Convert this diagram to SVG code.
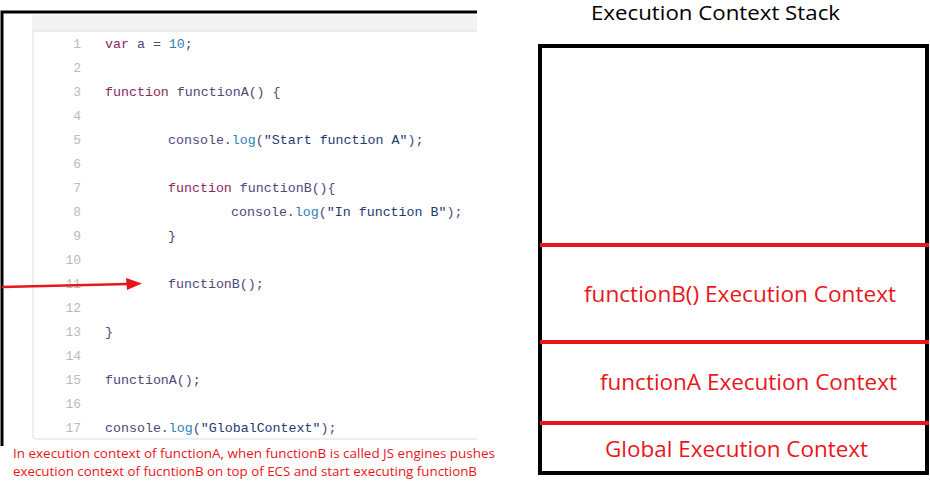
<svg xmlns="http://www.w3.org/2000/svg" width="930" height="481" viewBox="0 0 930 481">
<style>
.c{font-family:"Liberation Mono",monospace;font-size:13.3px;fill:#4b4a7a}
.n{font-family:"Liberation Mono",monospace;font-size:13px;fill:#bbb;text-anchor:end}
.k{fill:#8b2a5e}.m{fill:#2f80b8}.s{fill:#233a6e}
.r{font-family:"Open Sans",sans-serif;fill:#e8161c}
.rl{stroke:#e8161c;stroke-width:4}
</style>
<rect width="930" height="481" fill="#fff"/>
<g id="code">
<path d="M2,446 V12 H477" fill="none" stroke="#000" stroke-width="3"/>
<rect x="32" y="15" width="445" height="16" fill="#f3f3f3"/>
<path d="M477,31 H33 V436 Q33,439 36,439 H477" fill="none" stroke="#ddd"/>
<g class="n"><text x="81" y="48">1</text><text x="81" y="72">2</text><text x="81" y="96">3</text><text x="81" y="120">4</text><text x="81" y="144">5</text><text x="81" y="168">6</text><text x="81" y="192">7</text><text x="81" y="216">8</text><text x="81" y="240">9</text><text x="81" y="264">10</text><text x="81" y="288">11</text><text x="81" y="312">12</text><text x="81" y="336">13</text><text x="81" y="360">14</text><text x="81" y="384">15</text><text x="81" y="408">16</text><text x="81" y="432">17</text></g>
<g class="c">
<text x="105" y="48"><tspan class="k">var</tspan> a = <tspan class="m">10</tspan>;</text>
<text x="105" y="96"><tspan class="k">function</tspan> functionA() {</text>
<text x="168" y="144">console.<tspan class="m">log</tspan>(<tspan class="s">"Start function A"</tspan>);</text>
<text x="168" y="192"><tspan class="k">function</tspan> functionB(){</text>
<text x="231" y="216">console.<tspan class="m">log</tspan>(<tspan class="s">"In function B"</tspan>);</text>
<text x="168" y="240">}</text>
<text x="168" y="288">functionB();</text>
<text x="105" y="336">}</text>
<text x="105" y="384">functionA();</text>
<text x="105" y="432">console.<tspan class="m">log</tspan>(<tspan class="s">"GlobalContext"</tspan>);</text>
</g>
<text class="r" font-size="12.5" x="13" y="458" textLength="482" lengthAdjust="spacingAndGlyphs">In execution context of functionA, when functionB is called JS engines pushes</text>
<text class="r" font-size="12.5" x="13" y="476" textLength="464" lengthAdjust="spacingAndGlyphs">execution context of fucntionB on top of ECS and start executing functionB</text>
</g>
<g id="connectors">
<path d="M2,287 L128,284" stroke="#e8161c" stroke-width="2.5" fill="none"/>
<path d="M142,283.5 L126,278 L127,290 Z" fill="#e8161c"/>
</g>
<g id="stack">
<text x="591" y="20" font-family="Open Sans,sans-serif" font-size="20" textLength="249" lengthAdjust="spacingAndGlyphs">Execution Context Stack</text>
<rect x="540" y="46" width="387" height="427" fill="none" stroke="#000" stroke-width="4"/>
<line class="rl" x1="540" y1="245" x2="929" y2="245"/>
<line class="rl" x1="540" y1="342" x2="929" y2="342"/>
<line class="rl" x1="540" y1="423" x2="929" y2="423"/>
<text class="r" font-size="21" x="584" y="302" textLength="312" lengthAdjust="spacingAndGlyphs">functionB() Execution Context</text>
<text class="r" font-size="21" x="600" y="390" textLength="297" lengthAdjust="spacingAndGlyphs">functionA Execution Context</text>
<text class="r" font-size="21" x="605" y="457" textLength="263" lengthAdjust="spacingAndGlyphs">Global Execution Context</text>
</g>
</svg>
